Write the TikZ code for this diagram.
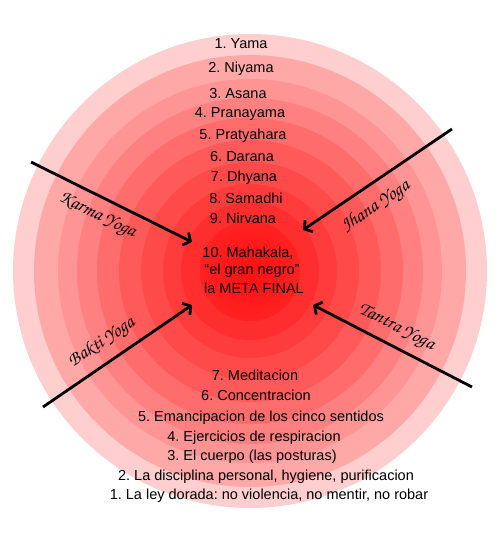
\documentclass[tikz,border=0pt]{standalone}
\usepackage[T1]{fontenc}
\usepackage{fontspec}
\setmainfont{Liberation Sans}
\usetikzlibrary{arrows.meta}
\frenchspacing
\definecolor{r1}{RGB}{255,206,206}
\definecolor{r2}{RGB}{255,168,168}
\definecolor{r3}{RGB}{255,148,148}
\definecolor{r4}{RGB}{255,128,128}
\definecolor{r5}{RGB}{255,108,108}
\definecolor{r6}{RGB}{255,90,90}
\definecolor{r7}{RGB}{255,74,74}
\definecolor{r8}{RGB}{255,60,60}
\definecolor{r9}{RGB}{255,46,46}
\definecolor{r10}{RGB}{255,34,34}
\definecolor{rc}{RGB}{255,16,16}
\newcommand{\scriptfnt}{\fontencoding{T1}\fontfamily{pzc}\fontseries{mb}\fontshape{it}\selectfont}
\tikzset{
  lbl/.style={inner sep=0pt, font=\fontsize{14.5}{17}\selectfont, text=black},
  yoga/.style={inner sep=0pt, font=\fontsize{19}{22}\scriptfnt, text=black},
  path/.style={line width=2.8pt, -{Straight Barb[length=5.5pt,width=14pt]}},
}
\begin{document}
\begin{tikzpicture}[x=1pt,y=-1pt]
\useasboundingbox (0,0) rectangle (500,542);
\fill[white] (0,0) rectangle (500,542);
\coordinate (c) at (250,271);
\foreach \r/\col in {237/r1,216/r2,192/r3,173/r4,153/r5,131/r6,109/r7,87/r8,69/r9,50/r10}{
  \fill[\col] (c) circle[radius=\r];
}
\shade[inner color=rc, outer color=r10] (c) circle[radius=50];
% top labels
\node[lbl] (y1) at (241,44) {1. Yama};
\node[lbl] (y2) at (241,69) {2. Niyama};
\node[lbl] (y3) at (238,94) {3. Asana};
\node[lbl] (y4) at (240,114) {4. Pranayama};
\node[lbl] (y5) at (243,136) {5. Pratyahara};
\node[lbl] (y6) at (242,157) {6. Darana};
\node[lbl] (y7) at (244,178) {7. Dhyana};
\node[lbl] (y8) at (246,198) {8. Samadhi};
\node[lbl] (y9) at (243,218) {9. Nirvana};
% center
\node[lbl] (m1) at (248,253) {10. Mahakala,};
\node[lbl] (m2) at (252,271) {“el gran negro”};
\node[lbl] (m3) at (254,288) {la META FINAL};
% bottom labels
\node[lbl] (b7) at (255,375) {7. Meditacion};
\node[lbl] (b6) at (256,395) {6. Concentracion};
\node[lbl] (b5) at (261,418) {5. Emancipacion de los cinco sentidos};
\node[lbl] (b4) at (254,438) {4. Ejercicios de respiracion};
\node[lbl] (b3) at (252,457) {3. El cuerpo (las posturas)};
\node[lbl] (b2) at (266,477) {2. La disciplina personal, hygiene, purificacion};
\node[lbl] (b1) at (269,496) {1. La ley dorada: no violencia, no mentir, no robar};
% arrows
\coordinate (ka1) at (31,162);  \coordinate (ka2) at (192,242);
\coordinate (ba1) at (43,407);  \coordinate (ba2) at (192,305);
\coordinate (ja1) at (452,129); \coordinate (ja2) at (303,230);
\coordinate (ta1) at (472,387); \coordinate (ta2) at (313,305);
\draw[path] (ka1) -- (ka2);
\draw[path] (ba1) -- (ba2);
\draw[path] (ja1) -- (ja2);
\draw[path] (ta1) -- (ta2);
\node[yoga, rotate=-26] (karma) at (97,216) {Karma Yoga};
\node[yoga, rotate=34] (bakti) at (102,343) {Bakti Yoga};
\node[yoga, rotate=34] (jhana) at (376,207) {Jhana Yoga};
\node[yoga, rotate=-27] (tantra) at (396,328) {Tantra Yoga};
\end{tikzpicture}
\end{document}
